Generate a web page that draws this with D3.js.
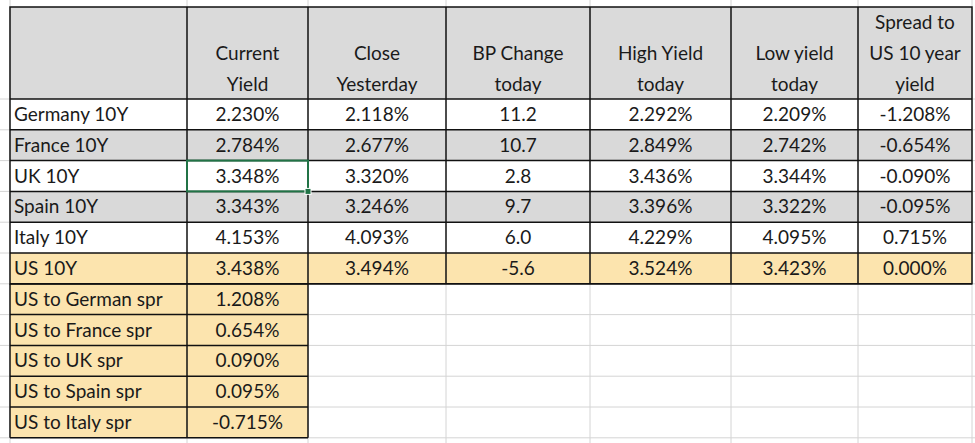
<!DOCTYPE html>
<html>
<head>
<meta charset="utf-8">
<script src="https://cdn.jsdelivr.net/npm/d3@7"></script>
<style>
  body { margin:0; background:#fff; }
  text { font-family: Lato, "Open Sans", sans-serif; font-size:19px; fill:#1a1a1a; }
</style>
</head>
<body>
<svg id="sheet" width="975" height="443"></svg>
<script>
// header lines per column
var headers = [[], ["Current", "Yield"], ["Close", "Yesterday"], ["BP Change", "today"],
  ["High Yield", "today"], ["Low yield", "today"], ["Spread to", "US 10 year", "yield"]];
var names = ["Germany 10Y", "France 10Y", "UK 10Y", "Spain 10Y", "Italy 10Y", "US 10Y"];
var current = ["2.230%", "2.784%", "3.348%", "3.343%", "4.153%", "3.438%"];
var closeY = ["2.118%", "2.677%", "3.320%", "3.246%", "4.093%", "3.494%"];
var bpChange = ["11.2", "10.7", "2.8", "9.7", "6.0", "-5.6"];
var highY = ["2.292%", "2.849%", "3.436%", "3.396%", "4.229%", "3.524%"];
var lowY = ["2.209%", "2.742%", "3.344%", "3.322%", "4.095%", "3.423%"];
var spreadUS = ["-1.208%", "-0.654%", "-0.090%", "-0.095%", "0.715%", "0.000%"];
var sprNames = ["US to German spr", "US to France spr", "US to UK spr", "US to Spain spr", "US to Italy spr"];
var sprValues = ["1.208%", "0.654%", "0.090%", "0.095%", "-0.715%"];

var colEdges = [10, 187, 308, 446, 590, 731, 858, 972];
var headTop = 7, headBot = 99, rowH = 30.8;
var svg = d3.select("#sheet");
var x = d3.scaleOrdinal().domain(d3.range(8)).range(colEdges);
var y = function(i) { return headBot + i * rowH; };

var mainRows = names.map(function(n, i) {
  return [n, current[i], closeY[i], bpChange[i], highY[i], lowY[i], spreadUS[i]];
});

// background excel gridlines
var grid = svg.append("g").attr("stroke", "#d4d4d4").attr("stroke-width", 1);
colEdges.forEach(function(cx) {
  grid.append("line").attr("x1", cx).attr("x2", cx).attr("y1", 0).attr("y2", 443);
});
d3.range(12).forEach(function(i) {
  grid.append("line").attr("x1", 0).attr("x2", 975).attr("y1", y(i)).attr("y2", y(i));
});

// header
svg.append("rect").attr("x", x(0)).attr("y", headTop).attr("width", x(7) - x(0))
  .attr("height", headBot - headTop).attr("fill", "#dadada");
headers.forEach(function(h, c) {
  var cx = (colEdges[c] + colEdges[c + 1]) / 2;
  h.forEach(function(line, k) {
    svg.append("text").attr("x", cx).attr("y", 91 - (h.length - 1 - k) * 31)
      .attr("text-anchor", "middle").text(line);
  });
});

// main rows
mainRows.forEach(function(r, i) {
  var fill = i === 5 ? "#fce4ae" : (i % 2 === 1 ? "#d9d9d9" : "#ffffff");
  svg.append("rect").attr("x", x(0)).attr("y", y(i)).attr("width", x(7) - x(0))
    .attr("height", rowH).attr("fill", fill);
  r.forEach(function(v, c) {
    var t = svg.append("text").attr("y", y(i) + rowH / 2 + 6.5).text(v);
    if (c === 0) t.attr("x", x(0) + 4);
    else t.attr("x", (colEdges[c] + colEdges[c + 1]) / 2).attr("text-anchor", "middle");
  });
});

// spread rows
sprNames.forEach(function(n, i) {
  var yy = y(6 + i);
  svg.append("rect").attr("x", x(0)).attr("y", yy).attr("width", x(2) - x(0))
    .attr("height", rowH).attr("fill", "#fce4ae");
  svg.append("text").attr("x", x(0) + 4).attr("y", yy + rowH / 2 + 6.5).text(n);
  svg.append("text").attr("x", (x(1) + x(2)) / 2).attr("text-anchor", "middle")
    .attr("y", yy + rowH / 2 + 6.5).text(sprValues[i]);
});

// dark borders
var b = svg.append("g").attr("stroke", "#111").attr("stroke-width", 1.5);
b.append("rect").attr("x", x(0)).attr("y", headTop).attr("width", x(7) - x(0))
  .attr("height", y(6) - headTop).attr("fill", "none");
d3.range(7).forEach(function(i) {
  b.append("line").attr("x1", x(0)).attr("x2", x(7)).attr("y1", y(i)).attr("y2", y(i));
});
d3.range(1, 7).forEach(function(c) {
  b.append("line").attr("x1", x(c)).attr("x2", x(c)).attr("y1", headTop).attr("y2", y(6));
});
d3.range(6, 12).forEach(function(i) {
  b.append("line").attr("x1", x(0)).attr("x2", x(2)).attr("y1", y(i)).attr("y2", y(i));
});
[0, 1, 2].forEach(function(c) {
  b.append("line").attr("x1", x(c)).attr("x2", x(c)).attr("y1", y(6)).attr("y2", y(11));
});

// selected cell
svg.append("rect").attr("x", x(1)).attr("y", y(2)).attr("width", x(2) - x(1))
  .attr("height", rowH).attr("fill", "none").attr("stroke", "#217346").attr("stroke-width", 2);
svg.append("rect").attr("x", x(2) - 3).attr("y", y(3) - 3).attr("width", 6).attr("height", 6)
  .attr("fill", "#217346").attr("stroke", "#fff");
</script>
</body>
</html>
